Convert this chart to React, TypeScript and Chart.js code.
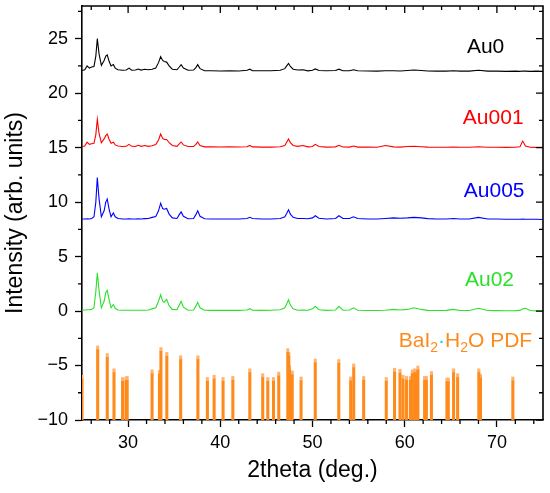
import { useEffect, useRef } from "react";
import { Chart, registerables } from "chart.js";

Chart.register(...registerables);

// ---------- data ----------
const twoTheta = [
  25.0, 25.3, 25.55, 25.8, 26.05, 26.3, 26.5, 26.66, 26.85, 27.1, 27.4, 27.58, 27.74, 27.95, 28.15,
  28.4, 28.6, 28.9, 29.4, 29.8, 30.1, 30.4, 30.8, 31.1, 31.4, 31.8, 32.2, 32.6, 33.0, 33.3, 33.53,
  33.75, 33.92, 34.18, 34.45, 34.8, 35.3, 35.55, 35.75, 36.0, 36.5, 37.1, 37.35, 37.55, 37.8, 38.3,
  39.0, 40.0, 41.0, 42.0, 42.9, 43.2, 43.5, 44.5, 45.5, 46.5, 47.0, 47.2, 47.4, 47.6, 47.9, 48.4,
  48.97, 49.5, 50.0, 50.3, 50.7, 51.5, 52.5, 52.87, 53.3, 54.0, 54.45, 54.9, 56.0, 57.0, 57.9, 58.8,
  59.5, 60.3, 61.0, 61.8, 62.5, 63.5, 64.5, 65.3, 66.0, 67.0, 68.0, 69.0, 70.0, 71.0, 72.0, 72.5,
  72.8, 73.1, 73.6, 74.3, 75.0,
];

const au0 = [
  22.08, 22.15, 22.5, 22.3, 22.4, 22.45, 23.4, 25.0, 23.6, 22.55, 23.0, 23.4, 23.5, 22.9, 22.5,
  22.62, 22.3, 22.15, 22.1, 22.12, 22.3, 22.1, 22.12, 22.22, 22.12, 22.2, 22.15, 22.2, 22.3, 22.8, 23.35,
  23.0, 22.9, 22.85, 22.5, 22.2, 22.15, 22.4, 22.62, 22.3, 22.1, 22.12, 22.35, 22.62, 22.25, 22.05,
  22.05, 22.03, 22.05, 22.03, 22.1, 22.2, 22.05, 22.05, 22.05, 22.1, 22.25, 22.5, 22.72, 22.45, 22.2, 22.12,
  22.15, 22.05, 22.1, 22.22, 22.08, 22.05, 22.08, 22.2, 22.05, 22.05, 22.15, 22.05, 22.03, 22.02, 22.05, 22.05,
  22.03, 22.08, 22.12, 22.08, 22.03, 22.02, 22.02, 22.05, 22.02, 22.02, 22.1, 22.02, 22.02, 22.0, 22.02, 22.0,
  22.03, 22.02, 22.0, 22.02, 22.0,
];

const au001 = [
  15.1, 15.15, 15.5, 15.3, 15.35, 15.4, 16.2, 17.6, 16.3, 15.45, 15.8, 16.1, 16.25, 15.75, 15.4,
  15.5, 15.25, 15.15, 15.1, 15.12, 15.3, 15.12, 15.1, 15.22, 15.12, 15.2, 15.12, 15.18, 15.28, 15.7, 16.25,
  15.85, 15.75, 15.75, 15.45, 15.2, 15.12, 15.35, 15.52, 15.25, 15.1, 15.1, 15.3, 15.52, 15.2, 15.07,
  15.07, 15.06, 15.07, 15.06, 15.08, 15.2, 15.07, 15.05, 15.05, 15.08, 15.2, 15.5, 15.8, 15.45, 15.2, 15.12,
  15.2, 15.07, 15.1, 15.3, 15.1, 15.05, 15.07, 15.22, 15.06, 15.05, 15.15, 15.05, 15.05, 15.03, 15.2, 15.07,
  15.05, 15.1, 15.12, 15.08, 15.05, 15.03, 15.03, 15.05, 15.03, 15.03, 15.08, 15.03, 15.03, 15.02, 15.03, 15.08,
  15.6, 15.15, 15.03, 15.02, 15.02,
];

const au005 = [
  8.45, 8.45, 8.47, 8.45, 8.5, 8.65, 10.0, 12.26, 10.3, 8.65, 9.2, 10.0, 10.28, 9.3, 8.65,
  9.0, 8.65, 8.5, 8.45, 8.45, 8.47, 8.45, 8.45, 8.47, 8.45, 8.48, 8.5, 8.6, 8.68, 9.2, 9.9,
  9.4, 9.35, 9.42, 8.9, 8.55, 8.5, 8.85, 9.1, 8.7, 8.47, 8.5, 8.85, 9.2, 8.7, 8.47,
  8.45, 8.45, 8.45, 8.45, 8.5, 8.6, 8.5, 8.45, 8.45, 8.5, 8.65, 8.95, 9.3, 8.9, 8.6, 8.5,
  8.5, 8.47, 8.55, 8.75, 8.52, 8.45, 8.5, 8.75, 8.5, 8.5, 8.65, 8.5, 8.45, 8.45, 8.5, 8.55,
  8.52, 8.55, 8.6, 8.55, 8.48, 8.45, 8.45, 8.5, 8.45, 8.45, 8.6, 8.45, 8.45, 8.43, 8.43, 8.42,
  8.45, 8.43, 8.42, 8.42, 8.4,
];

const au02 = [
  0.08, 0.1, 0.12, 0.12, 0.15, 0.3, 1.8, 3.5, 1.9, 0.3, 0.9, 1.7, 1.9, 1.0, 0.3,
  0.6, 0.25, 0.1, 0.07, 0.07, 0.08, 0.07, 0.07, 0.08, 0.07, 0.08, 0.1, 0.2, 0.3, 0.9, 1.5,
  0.9, 0.8, 1.07, 0.5, 0.15, 0.12, 0.55, 0.89, 0.35, 0.08, 0.1, 0.45, 0.8, 0.3, 0.08,
  0.06, 0.06, 0.06, 0.06, 0.1, 0.22, 0.08, 0.06, 0.07, 0.12, 0.3, 0.65, 1.04, 0.55, 0.2, 0.08,
  0.1, 0.07, 0.2, 0.43, 0.12, 0.06, 0.1, 0.43, 0.08, 0.1, 0.3, 0.08, 0.05, 0.05, 0.08, 0.15,
  0.1, 0.15, 0.3, 0.15, 0.06, 0.05, 0.06, 0.15, 0.05, 0.05, 0.25, 0.05, 0.04, 0.03, 0.04, 0.06,
  0.2, 0.25, 0.05, 0.02, 0.0,
];

// BaI2·H2O reference pattern (stick positions and stick tops)
const stickPos = [
  25.0, 26.7, 27.74, 28.47, 29.4, 29.77, 29.9, 32.6, 33.4, 33.56, 34.2, 35.7, 37.57, 38.6, 39.33,
  40.3, 41.36, 43.2, 44.6, 45.15, 45.77, 46.34, 47.32, 47.43, 47.5, 47.8, 48.76, 50.3, 52.85, 54.14,
  54.47, 55.55, 58.0, 58.9, 59.49, 59.82, 60.2, 60.62, 60.83, 61.08, 61.22, 61.43, 62.16, 62.35, 62.9,
  64.58, 64.73, 65.3, 65.74, 68.04, 68.22, 71.73,
];
const stickTop = [
  -5.9, -3.2, -3.9, -5.3, -6.1, -6.05, -6.0, -5.4, -5.45, -3.35, -3.8, -4.1, -4.1, -6.1, -5.9,
  -6.1, -6.0, -5.3, -5.75, -6.1, -6.1, -5.6, -3.45, -3.8, -5.0, -5.5, -6.05, -4.4, -4.45, -6.05,
  -4.85, -6.0, -6.1, -5.25, -5.35, -5.9, -6.0, -6.0, -5.4, -5.3, -5.35, -5.05, -6.0, -6.0, -5.55,
  -6.15, -6.15, -5.3, -5.75, -5.3, -5.8, -6.05,
];
const stickFloor = -10;

const seriesNames = ["Au0", "Au001", "Au005", "Au02"];
const pdfName = ["BaI", "2", "·", "H", "2", "O PDF"];

const xMajorTicks = [30, 40, 50, 60, 70];
const xMinorTicks = [26, 28, 32, 34, 36, 38, 42, 44, 46, 48, 52, 54, 56, 58, 62, 64, 66, 68, 72, 74];
const yMajorTicks = [-10, -5, 0, 5, 10, 15, 20, 25];
const yMinorTicks = [-7.5, -2.5, 2.5, 7.5, 12.5, 17.5, 22.5, 27.5];

// ---------- style / layout ----------
const FONT = "'Liberation Sans', Arial, sans-serif";
const seriesColors = ["#000000", "#FF0000", "#0000FF", "#2BE02B"];
const stickColor = "#FF8A1C";
const stickCapColor = "#FFB36E";
const capDepth = 0.35;
const labelAnchors = [
  { x: 68.77, y: 23.7 },
  { x: 69.6, y: 17.15 },
  { x: 69.7, y: 10.5 },
  { x: 69.2, y: 2.29 },
];
const pdfAnchor = { x: 59.35, y: -3.3 };
const MAJOR = 7;
const MINOR = 4;

const toPoints = (ys: number[]) => ys.map((v, i) => ({ x: twoTheta[i], y: v }));

const labelPlugin = {
  id: "seriesLabels",
  afterDatasetsDraw(chart: any) {
    const { ctx, scales } = chart;
    const xs = scales.x;
    const ys = scales.y;
    ctx.save();
    ctx.font = `21px ${FONT}`;
    ctx.textAlign = "center";
    ctx.textBaseline = "alphabetic";
    seriesNames.forEach((name, i) => {
      ctx.fillStyle = seriesColors[i];
      ctx.fillText(name, xs.getPixelForValue(labelAnchors[i].x), ys.getPixelForValue(labelAnchors[i].y));
    });
    // BaI2·H2O PDF
    let px = xs.getPixelForValue(pdfAnchor.x);
    const py = ys.getPixelForValue(pdfAnchor.y);
    ctx.textAlign = "left";
    const parts = [
      { t: pdfName[0], sub: false, c: stickColor },
      { t: pdfName[1], sub: true, c: stickColor },
      { t: pdfName[2], sub: false, c: "#00D8E0" },
      { t: pdfName[3], sub: false, c: stickColor },
      { t: pdfName[4], sub: true, c: stickColor },
      { t: pdfName[5], sub: false, c: stickColor },
    ];
    parts.forEach((p) => {
      ctx.font = p.sub ? `14px ${FONT}` : `21px ${FONT}`;
      ctx.fillStyle = p.c;
      ctx.fillText(p.t, px, p.sub ? py + 5 : py);
      px += ctx.measureText(p.t).width;
    });
    ctx.restore();
  },
};

const framePlugin = {
  id: "frame",
  afterDraw(chart: any) {
    const { ctx, chartArea: a, scales } = chart;
    const xs = scales.x;
    const ys = scales.y;
    ctx.save();
    ctx.strokeStyle = "#000";
    ctx.lineWidth = 1.6;
    ctx.beginPath();
    ctx.moveTo(a.left, a.top);
    ctx.lineTo(a.right, a.top);
    ctx.lineTo(a.right, a.bottom);
    ctx.stroke();
    ctx.lineWidth = 1.3;
    ctx.beginPath();
    const seg = (x1: number, y1: number, x2: number, y2: number) => {
      ctx.moveTo(x1, y1);
      ctx.lineTo(x2, y2);
    };
    xMajorTicks.forEach((v) => {
      const p = xs.getPixelForValue(v);
      seg(p, a.top, p, a.top + MAJOR);
    });
    xMinorTicks.forEach((v) => {
      const p = xs.getPixelForValue(v);
      seg(p, a.top, p, a.top + MINOR);
      seg(p, a.bottom, p, a.bottom + MINOR);
    });
    yMajorTicks.forEach((v) => {
      const p = ys.getPixelForValue(v);
      seg(a.right, p, a.right - MAJOR, p);
    });
    yMinorTicks.forEach((v) => {
      const p = ys.getPixelForValue(v);
      seg(a.right, p, a.right - MINOR, p);
      seg(a.left, p, a.left - MINOR, p);
    });
    ctx.stroke();
    ctx.restore();
  },
};

export default function App() {
  const ref = useRef<HTMLCanvasElement>(null);

  useEffect(() => {
    const seriesData = [au0, au001, au005, au02];
    const lineSets = seriesData.map((ys, i) => ({
      type: "line" as const,
      label: seriesNames[i],
      data: toPoints(ys),
      borderColor: seriesColors[i],
      borderWidth: 1.1,
      pointRadius: 0,
      tension: 0,
      fill: false,
      order: 1,
    }));
    const stickBody = {
      type: "bar" as const,
      label: "PDF",
      data: stickPos.map((p, i) => ({ x: p, y: [stickFloor, stickTop[i] - capDepth] })),
      backgroundColor: stickColor,
      borderWidth: 0,
      barThickness: 2.4,
      grouped: false,
      order: 2,
    };
    const stickCap = {
      type: "bar" as const,
      label: "PDF cap",
      data: stickPos.map((p, i) => ({ x: p, y: [stickTop[i] - capDepth, stickTop[i]] })),
      backgroundColor: stickCapColor,
      borderWidth: 0,
      barThickness: 2.4,
      grouped: false,
      order: 2,
    };

    const chart = new Chart(ref.current as HTMLCanvasElement, {
      type: "line",
      data: { datasets: [...lineSets, stickBody, stickCap] as any },
      plugins: [labelPlugin, framePlugin],
      options: {
        animation: false,
        responsive: false,
        devicePixelRatio: 1,
        layout: { padding: { top: 6, right: 7, left: 0, bottom: 0 } },
        plugins: { legend: { display: false }, tooltip: { enabled: false } },
        scales: {
          x: {
            type: "linear",
            min: 25,
            max: 75,
            offset: false,
            afterBuildTicks: (s: any) => {
              s.ticks = xMajorTicks.map((v) => ({ value: v }));
            },
            afterFit: (s: any) => {
              s.height = 73;
              s.paddingLeft = 0;
              s.paddingRight = 0;
            },
            grid: {
              offset: false,
              drawOnChartArea: false,
              drawTicks: true,
              tickLength: MAJOR,
              tickWidth: 1.3,
              tickColor: "#000",
            },
            border: { display: true, color: "#000", width: 1.6 },
            ticks: {
              color: "#000",
              font: { family: FONT, size: 18 },
              padding: 5,
              maxRotation: 0,
              autoSkip: false,
            },
            title: {
              display: true,
              text: "2theta (deg.)",
              color: "#000",
              font: { family: FONT, size: 23 },
              padding: { top: 0, bottom: 9 },
            },
          },
          y: {
            type: "linear",
            min: -10,
            max: 28,
            afterBuildTicks: (s: any) => {
              s.ticks = yMajorTicks.map((v) => ({ value: v }));
            },
            afterFit: (s: any) => {
              s.width = 82;
              s.paddingTop = 0;
              s.paddingBottom = 0;
            },
            grid: {
              drawOnChartArea: false,
              drawTicks: true,
              tickLength: MAJOR,
              tickWidth: 1.3,
              tickColor: "#000",
            },
            border: { display: true, color: "#000", width: 1.6 },
            ticks: {
              color: "#000",
              font: { family: FONT, size: 18 },
              padding: 7,
              autoSkip: false,
              callback: (v: any) => String(v).replace("-", "\u2212"),
            },
            title: {
              display: true,
              text: "Intensity (arb. units)",
              color: "#000",
              font: { family: FONT, size: 23 },
              padding: { top: 1.5, bottom: 0 },
            },
          },
        },
      },
    } as any);
    return () => chart.destroy();
  }, []);

  return (
    <div style={{ position: "fixed", left: 0, top: 0, width: 550, height: 493, background: "#fff" }}>
      <canvas ref={ref} width={550} height={493} style={{ display: "block", width: 550, height: 493 }} />
    </div>
  );
}
